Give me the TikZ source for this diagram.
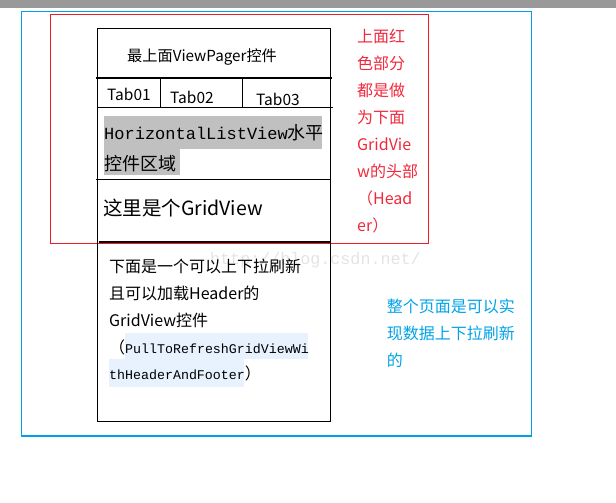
\documentclass[tikz,border=0pt]{standalone}
\usepackage{fontspec}
\setmainfont{Noto Sans CJK SC}
\newfontfamily\codefont{Liberation Mono}
\usetikzlibrary{positioning}
\definecolor{barGray}{RGB}{153,153,153}
\definecolor{pageBlue}{RGB}{0,160,233}
\definecolor{headRed}{RGB}{237,28,36}
\definecolor{redText}{RGB}{240,40,60}
\definecolor{blueText}{RGB}{0,162,232}
\definecolor{hlGray}{RGB}{192,192,192}
\definecolor{hlBlue}{RGB}{232,242,254}
\definecolor{markGray}{RGB}{228,228,228}
\tikzset{
  txt/.style={anchor=west, inner sep=0pt},
  small/.style={txt, font=\fontsize{15.2}{15.2}\selectfont},
  tab/.style={txt, font=\fontsize{15.5}{15.5}\selectfont},
  big/.style={txt, font=\fontsize{18}{18}\selectfont},
  body/.style={txt, font=\fontsize{16}{16}\selectfont},
  frame/.style={line width=1pt},
  thick line/.style={line width=2pt}
}

\begin{document}
\begin{tikzpicture}[x=1pt,y=-1pt]
    \useasboundingbox (0,0) rectangle (616,503);
    \fill[barGray] (0,0) rectangle (616,7.7);

    % whole page and header frames
    \draw[pageBlue, line width=1.2pt] (21.2,11.3) rectangle (531.6,436);
    \draw[headRed, line width=1.2pt] (50.3,14.7) rectangle (428.3,243.3);

    % text highlights
    \fill[hlGray] (104,116) rectangle (322,149);
    \fill[hlGray] (104,149) rectangle (180,175);
    \fill[hlBlue] (124.7,333) rectangle (308,359);
    \fill[hlBlue] (109,359) rectangle (244,387);

    % the phone screen
    \draw[frame] (97,29) rectangle (330.5,421.5);
    \draw[thick line] (96,78.3) -- (331.5,78.3);
    \draw[frame] (97,107.3) -- (333,107.3);
    \draw[frame] (160.3,79) -- (160.3,107.3);
    \draw[frame] (242.3,79) -- (242.3,107.3);
    \draw[frame] (96,179.3) -- (330.5,179.3);
    \draw[thick line] (99,241.7) -- (331,241.7);

    \node (mark) [txt, markGray, font=\codefont\fontsize{16.7}{16.7}\selectfont]
        at (210,260) {http://blog.csdn.net/};

    \node (pager) [small] at (127,57) {最上面ViewPager控件};
    \node (t1) [tab] at (107,94.5) {Tab01};
    \node (t2) [tab] at (170,97) {Tab02};
    \node (t3) [tab] at (256,99.5) {Tab03};

    \node (h1) [big] at (104,133) {{\codefont\fontsize{17}{17}\selectfont HorizontalListView}水平};
    \node (h2) [big] at (104,164) {控件区域};
    \node (grid) [big, font=\fontsize{19.5}{19.5}\selectfont] at (103,208) {这里是个GridView};

    \node (b1) [body] at (109,266.7) {下面是一个可以上下拉刷新};
    \node (b2) [body] at (109,293.3) {且可以加载Header的};
    \node (b3) [body] at (109,320) {GridView控件};
    \node (b4) [body] at (109,347) {（{\codefont\fontsize{13.3}{13.3}\selectfont PullToRefreshGridViewWi}};
    \node (b5) [body] at (109,373.7) {{\codefont\fontsize{13.3}{13.3}\selectfont thHeaderAndFooter}）};

    % notes beside the screen
    \foreach \t [count=\i] in {上面红, 色部分, 都是做, 为下面, GridVie, w的头部, （Head, er）}
        \node (r\i) [body, redText] at (357,9.7+27*\i) {\t};
    \foreach \t [count=\i] in {整个页面是可以实, 现数据上下拉刷新, 的}
        \node (p\i) [body, blueText] at (386.7,280+26.7*\i) {\t};
\end{tikzpicture}
\end{document}
